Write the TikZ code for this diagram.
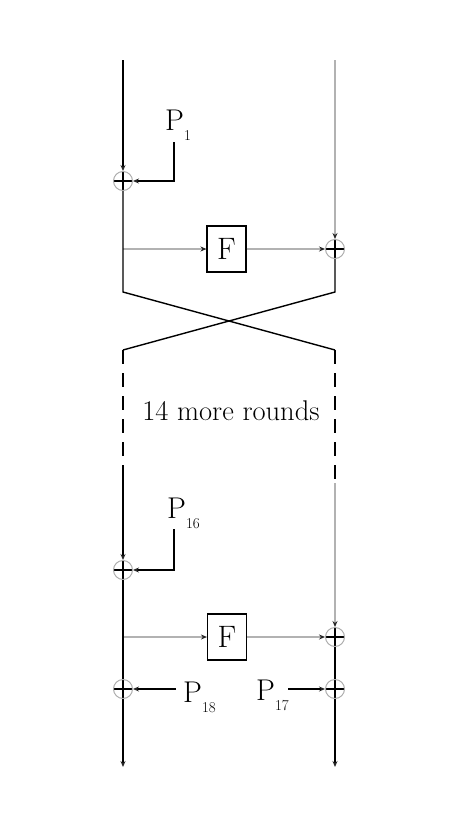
\documentclass[tikz,border=0pt]{standalone}
\usetikzlibrary{arrows.meta}
\newcommand\mysub[1]{\raisebox{-10pt}{\fontsize{15}{15}\selectfont #1}}
\begin{document}
\begin{tikzpicture}[x=1pt,y=-1pt,
  wire/.style={line width=1.4pt, black},
  gwire/.style={line width=1.6pt, gray!60},
  tip/.style={-{Stealth[length=6pt,width=5pt,color=black!85]}},
  xor/.style={circle, draw=gray!65, line width=1pt, minimum size=19pt, inner sep=0pt,
    path picture={\draw[black,line width=1.2pt] (path picture bounding box.north) -- (path picture bounding box.south) (path picture bounding box.west) -- (path picture bounding box.east);}},
  fbox/.style={draw, line width=1.1pt, minimum width=39pt, minimum height=46pt, inner sep=0pt, font=\fontsize{31}{36}\selectfont},
  lab/.style={anchor=base west, inner sep=0pt, font=\fontsize{30}{34}\selectfont},
  dashwire/.style={wire, dash pattern=on 14pt off 9pt},
]
\useasboundingbox (0,0) rectangle (474,817);
% first round
\coordinate (tL) at (123,60);
\coordinate (tR) at (335,60);
\node[xor] (x1) at (123,181) {};
\node[lab] (p1) at (165,130) {P\mysub{1}};
\coordinate (p1s) at (174,142);
\coordinate (p1c) at (174,181);
\draw[wire,tip] (tL) -- (x1);
\draw[wire,tip] (p1s) -- (p1c) -- (x1);
\coordinate (b1) at (123,249);
\node[fbox] (F1) at (226.5,249) {F};
\node[xor] (x2) at (335,249) {};
\draw[gwire,tip] (b1) -- (F1);
\draw[gwire,tip] (F1) -- (x2);
\draw[gwire,tip] (tR) -- (x2);
% swap
\coordinate (l1) at (123,292);
\coordinate (r1) at (335,292);
\coordinate (l2) at (123,350);
\coordinate (r2) at (335,350);
\draw[wire] (x1) -- (l1) -- (r2);
\draw[wire] (x2) -- (r1) -- (l2);
% more rounds
\coordinate (l3) at (123,468);
\coordinate (r3) at (335,483);
\draw[dashwire] (l2) -- (l3);
\draw[dashwire] (r2) -- (r3);
\node[font=\fontsize{28.5}{32}\selectfont] (more) at (231,411) {14 more rounds};
% last round
\node[xor] (x3) at (123,570) {};
\node[lab] (p16) at (167,518) {P\mysub{16}};
\coordinate (p16s) at (174,529);
\coordinate (p16c) at (174,570);
\draw[wire,tip] (l3) -- (x3);
\draw[wire,tip] (p16s) -- (p16c) -- (x3);
\coordinate (b2) at (123,637);
\node[fbox] (F2) at (227,637) {F};
\node[xor] (x4) at (335,637) {};
\draw[gwire,tip] (b2) -- (F2);
\draw[gwire,tip] (F2) -- (x4);
\draw[gwire,tip] (r3) -- (x4);
% output whitening
\node[xor] (x5) at (123,689) {};
\node[xor] (x6) at (335,689) {};
\draw[wire] (x3) -- (x5);
\draw[wire] (x4) -- (x6);
\node[lab] (p18) at (183,702) {P\mysub{18}};
\node[lab] (p17) at (256,700) {P\mysub{17}};
\coordinate (p18s) at (176,689);
\coordinate (p17s) at (288,689);
\draw[wire,tip] (p18s) -- (x5);
\draw[wire,tip] (p17s) -- (x6);
\coordinate (eL) at (123,767);
\coordinate (eR) at (335,767);
\draw[wire,tip] (x5) -- (eL);
\draw[wire,tip] (x6) -- (eR);
\end{tikzpicture}
\end{document}
